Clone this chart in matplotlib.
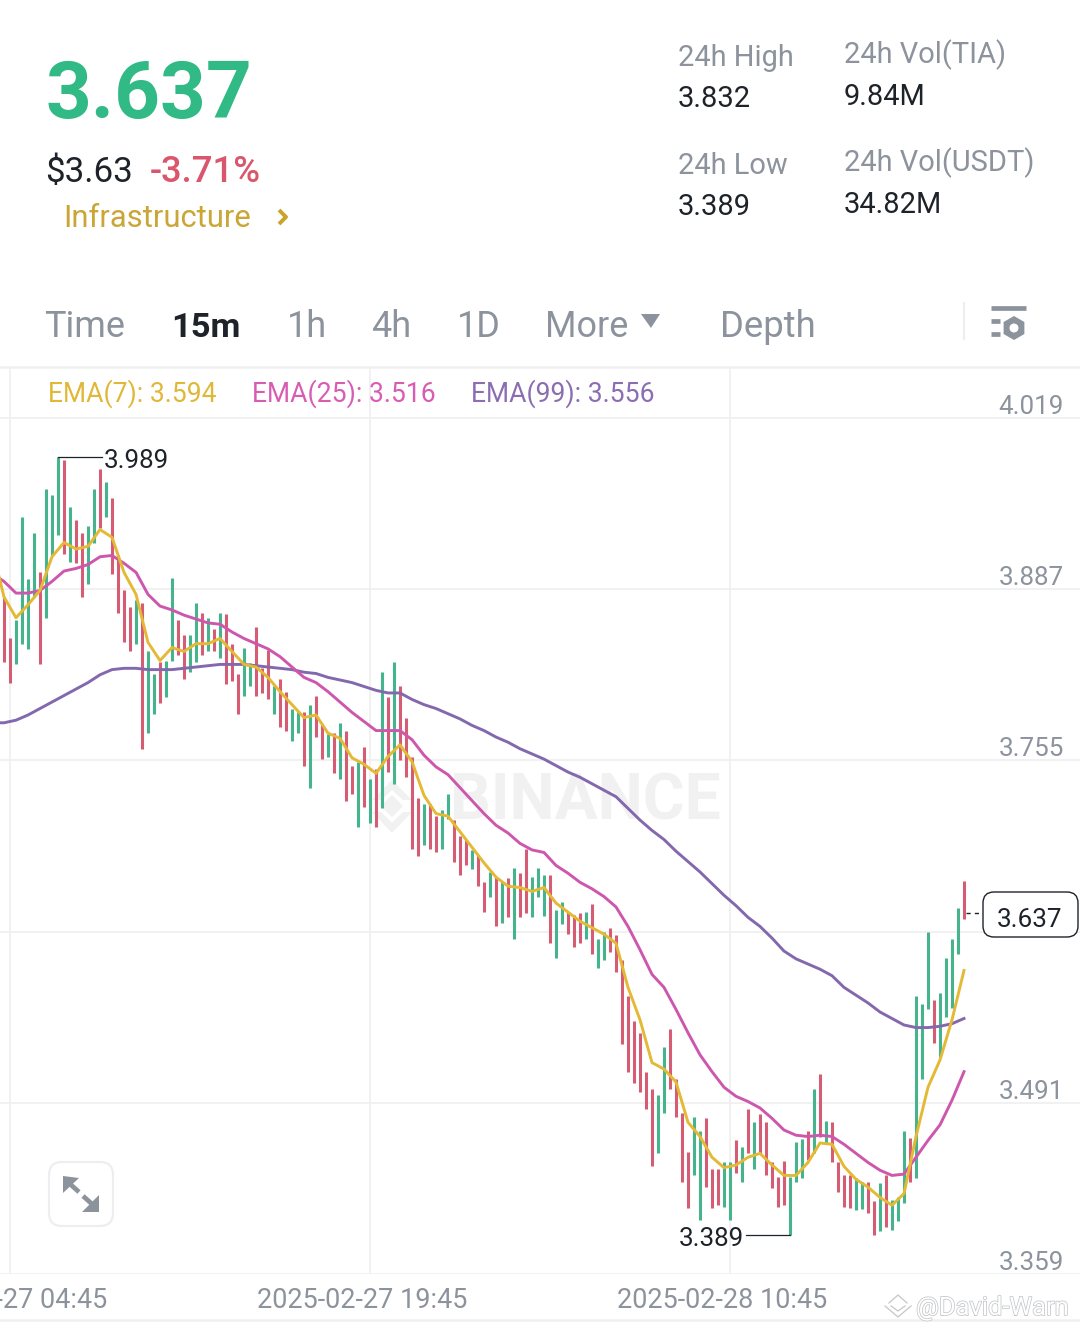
import numpy as np
import matplotlib
matplotlib.use("Agg")
import matplotlib.pyplot as plt
import matplotlib.patheffects as pe
from matplotlib.patches import FancyBboxPatch, Polygon, Circle, RegularPolygon

plt.rcParams['font.family'] = ['Roboto', 'DejaVu Sans']

# candle data, 15m bars
highs = [3.881, 3.849, 3.863, 3.943, 3.895, 3.930, 3.900, 3.964, 3.960, 3.989,
         3.987, 3.950, 3.940, 3.930, 3.936, 3.964, 3.980, 3.970, 3.957, 3.913,
         3.886, 3.873, 3.879, 3.876, 3.839, 3.822, 3.831, 3.832, 3.896, 3.863,
         3.852, 3.852, 3.876, 3.869, 3.865, 3.856, 3.869, 3.868, 3.845, 3.822,
         3.842, 3.830, 3.858, 3.826, 3.840, 3.812, 3.818, 3.808, 3.795, 3.792,
         3.792, 3.798, 3.805, 3.782, 3.775, 3.776, 3.784, 3.778, 3.751, 3.754,
         3.765, 3.741, 3.748, 3.823, 3.804, 3.831, 3.812, 3.788, 3.758, 3.726,
         3.721, 3.721, 3.712, 3.717, 3.729, 3.709, 3.697, 3.694, 3.686, 3.682,
         3.661, 3.669, 3.665, 3.661, 3.664, 3.672, 3.668, 3.687, 3.665, 3.672,
         3.667, 3.667, 3.640, 3.646, 3.638, 3.636, 3.637, 3.638, 3.644, 3.617,
         3.623, 3.626, 3.620, 3.601, 3.573, 3.554, 3.545, 3.515, 3.502, 3.497,
         3.534, 3.548, 3.509, 3.483, 3.453, 3.480, 3.469, 3.479, 3.440, 3.440,
         3.445, 3.445, 3.462, 3.457, 3.486, 3.476, 3.482, 3.476, 3.445, 3.434,
         3.446, 3.434, 3.461, 3.463, 3.469, 3.502, 3.513, 3.477, 3.476, 3.445,
         3.435, 3.435, 3.433, 3.430, 3.430, 3.415, 3.429, 3.435, 3.416, 3.418,
         3.469, 3.464, 3.573, 3.567, 3.623, 3.570, 3.576, 3.603, 3.617, 3.641,
         3.662]
lows = [3.831, 3.815, 3.829, 3.845, 3.841, 3.881, 3.829, 3.865, 3.913, 3.929,
        3.914, 3.908, 3.907, 3.881, 3.891, 3.923, 3.934, 3.943, 3.899, 3.869,
        3.846, 3.839, 3.845, 3.764, 3.776, 3.791, 3.799, 3.804, 3.832, 3.836,
        3.818, 3.823, 3.831, 3.836, 3.839, 3.839, 3.834, 3.814, 3.816, 3.791,
        3.805, 3.812, 3.805, 3.807, 3.802, 3.791, 3.781, 3.778, 3.770, 3.776,
        3.751, 3.734, 3.773, 3.756, 3.758, 3.745, 3.741, 3.724, 3.729, 3.704,
        3.719, 3.707, 3.704, 3.718, 3.746, 3.737, 3.755, 3.742, 3.687, 3.681,
        3.690, 3.687, 3.684, 3.687, 3.710, 3.677, 3.667, 3.674, 3.671, 3.658,
        3.638, 3.650, 3.627, 3.630, 3.634, 3.617, 3.634, 3.637, 3.634, 3.650,
        3.635, 3.614, 3.603, 3.629, 3.621, 3.611, 3.614, 3.617, 3.606, 3.595,
        3.601, 3.607, 3.592, 3.536, 3.515, 3.506, 3.499, 3.486, 3.442, 3.452,
        3.483, 3.502, 3.480, 3.430, 3.410, 3.435, 3.401, 3.426, 3.410, 3.412,
        3.411, 3.401, 3.437, 3.430, 3.452, 3.440, 3.452, 3.435, 3.425, 3.411,
        3.412, 3.389, 3.430, 3.433, 3.447, 3.452, 3.465, 3.460, 3.445, 3.422,
        3.411, 3.410, 3.408, 3.409, 3.406, 3.389, 3.392, 3.395, 3.393, 3.400,
        3.414, 3.430, 3.433, 3.509, 3.563, 3.537, 3.526, 3.557, 3.564, 3.606,
        3.633]
# U = green bar, D = red bar
directions = ("DDUUUUDUUU" "DUDDUUDUDD" "DDUDUUDUUD" "DUUDUDUDDD"
              "UUDDDUDDUU" "DUDDUDUDDU" "DUDUDUDDDD" "UDDUUDDDUD"
              "DUDUDUDDUU" "UDUUDDDUDU" "UDDDDDDDDU" "UDDDDUUDDD"
              "UUDUDUDDDD" "DUUUDUDUDD" "DDUUDDUDUU" "UDUUUDUUUU"
              "D")

# moving averages, one value every second bar, first value sits one bar left of the chart
ema7 = [3.900, 3.881, 3.865, 3.875, 3.886, 3.912, 3.923, 3.918, 3.920, 3.933, 3.927,
        3.900, 3.883, 3.846, 3.832, 3.842, 3.839, 3.845, 3.845, 3.849, 3.839,
        3.829, 3.827, 3.819, 3.808, 3.798, 3.788, 3.790, 3.776, 3.772, 3.757,
        3.752, 3.745, 3.758, 3.767, 3.754, 3.728, 3.714, 3.712, 3.700, 3.688,
        3.676, 3.665, 3.658, 3.657, 3.654, 3.657, 3.645, 3.638, 3.631, 3.626,
        3.621, 3.614, 3.580, 3.555, 3.522, 3.517, 3.507, 3.476, 3.465, 3.449,
        3.441, 3.443, 3.449, 3.452, 3.443, 3.435, 3.435, 3.445, 3.460, 3.459,
        3.442, 3.432, 3.426, 3.418, 3.412, 3.421, 3.465, 3.503, 3.524, 3.555,
        3.593]
ema25 = [3.896, 3.893, 3.884, 3.884, 3.886, 3.893, 3.901, 3.903, 3.906, 3.912, 3.913,
         3.907, 3.900, 3.883, 3.874, 3.871, 3.867, 3.864, 3.861, 3.860, 3.854,
         3.849, 3.845, 3.841, 3.835, 3.827, 3.819, 3.815, 3.808, 3.800, 3.792,
         3.785, 3.778, 3.778, 3.778, 3.771, 3.759, 3.750, 3.744, 3.734, 3.724,
         3.714, 3.705, 3.699, 3.691, 3.686, 3.684, 3.674, 3.668, 3.661, 3.656,
         3.650, 3.642, 3.627, 3.609, 3.590, 3.580, 3.563, 3.545, 3.528, 3.515,
         3.503, 3.496, 3.492, 3.487, 3.479, 3.470, 3.466, 3.465, 3.466, 3.465,
         3.459, 3.452, 3.445, 3.439, 3.435, 3.436, 3.449, 3.462, 3.474, 3.493,
         3.515]
ema99 = [3.784, 3.784, 3.786, 3.790, 3.795, 3.800, 3.805, 3.810, 3.815, 3.821, 3.825,
         3.826, 3.826, 3.825, 3.825, 3.825, 3.826, 3.827, 3.828, 3.829, 3.829,
         3.829, 3.828, 3.827, 3.826, 3.825, 3.823, 3.822, 3.819, 3.817, 3.815,
         3.812, 3.809, 3.807, 3.807, 3.802, 3.798, 3.795, 3.791, 3.787, 3.782,
         3.778, 3.773, 3.769, 3.764, 3.760, 3.756, 3.751, 3.746, 3.742, 3.737,
         3.732, 3.727, 3.718, 3.709, 3.701, 3.694, 3.685, 3.677, 3.669, 3.660,
         3.651, 3.643, 3.634, 3.627, 3.618, 3.608, 3.602, 3.598, 3.594, 3.589,
         3.580, 3.574, 3.568, 3.561, 3.556, 3.551, 3.549, 3.549, 3.550, 3.552,
         3.556]

price_ticks = [4.019, 3.887, 3.755, 3.623, 3.491, 3.359]
# the 3.623 label sits under the current price tag
price_labels = ["4.019", "3.887", "3.755", "", "3.491", "3.359"]
time_ticks = [1, 61, 121]
time_labels = ["2025-02-27 04:45", "2025-02-27 19:45", "2025-02-28 10:45"]

GREEN = "#45B48C"
RED = "#D65C73"
GRAY = "#8C939C"
DARK = "#1E2329"
GRID = "#F0F0F1"
YELLOW = "#E3B935"
MAGENTA = "#CE57AE"
PURPLE = "#8468AE"
MARK = "#F1F1F2"

W, H = 1080, 1328
fig = plt.figure(figsize=(W / 100, H / 100), dpi=100, facecolor="white")


def pixel_axes(zorder):
    # overlay axes that work in screen pixels
    a = fig.add_axes([0, 0, 1, 1], facecolor="none", zorder=zorder)
    a.set_xlim(0, W)
    a.set_ylim(H, 0)
    a.axis("off")
    return a


back = pixel_axes(-1)
top = pixel_axes(2)


def put(x, y, s, px, color=DARK, **kw):
    # x, y in screen pixels, y is the baseline, px is font size in pixels
    kw.setdefault("va", "baseline")
    return top.text(x, y, s, fontsize=px * 0.72, color=color, clip_on=True, **kw)


# chart area
ax = fig.add_axes([0, 1 - 1274 / H, 1, (1274 - 368) / H], zorder=1)
ax.patch.set_visible(False)
ax.set_xlim(-4 / 6, (W - 4) / 6)
ax.set_ylim(3.359, 3.359 + (1274 - 368) * 0.132 / 171.2)
for side in ax.spines.values():
    side.set_visible(False)
ax.set_xticks(time_ticks)
ax.set_yticks(price_ticks)
ax.tick_params(length=0, labelbottom=False, labelleft=False)
ax.grid(True, color=GRID, linewidth=1.3, zorder=0)
ax.set_axisbelow(True)

# faint watermark in the middle of the chart
back.text(585, 820, "BINANCE", fontsize=64 * 0.72, color=MARK, ha="center", va="baseline", fontweight="bold")
back.add_patch(Polygon([(392, 795), (403, 806), (392, 817), (381, 806)], fc=MARK, ec="none"))
back.add_patch(Polygon([(392, 780), (412, 800), (403, 800), (392, 790), (381, 800), (372, 800)], fc=MARK, ec="none"))
back.add_patch(Polygon([(392, 833), (412, 812), (403, 812), (392, 823), (381, 812), (372, 812)], fc=MARK, ec="none"))

idx = np.arange(len(highs))
colors = [GREEN if d == "U" else RED for d in directions]
ax.vlines(idx, lows, highs, colors=colors, linewidth=2.2, capstyle="butt", zorder=3)

ax.plot(np.r_[-1, np.arange(len(ema99) - 1) * 2], ema99, color=PURPLE, lw=2.1, zorder=4)
ax.plot(np.r_[-1, np.arange(len(ema25) - 1) * 2], ema25, color=MAGENTA, lw=2.1, zorder=5)
ax.plot(np.r_[-1, np.arange(len(ema7) - 1) * 2], ema7, color=YELLOW, lw=2.1, zorder=6)

# high / low markers
ax.plot([9, 16.4], [3.989, 3.989], color=DARK, lw=0.9, zorder=7)
ax.annotate("3.989", (16.6, 3.989), xytext=(0, -3), textcoords="offset points",
            fontsize=26 * 0.72, color=DARK, va="center", zorder=7)
ax.plot([123.6, 131], [3.389, 3.389], color=DARK, lw=0.9, zorder=7)
ax.annotate("3.389", (123.4, 3.389), xytext=(0, -3), textcoords="offset points",
            fontsize=26 * 0.72, color=DARK, va="center", ha="right", zorder=7)

# current price
ax.plot([160.3, 163], [3.637, 3.637], color=DARK, lw=1, ls=(0, (3, 3)), zorder=7)

# axis labels
for p, lab in zip(price_ticks, price_labels):
    ax.annotate(lab, (1060 / 6, p), xytext=(0, 4 * 0.72), textcoords="offset points",
                ha="right", va="baseline", fontsize=26 * 0.72, color=GRAY, zorder=2)
for t, lab in zip(time_ticks, time_labels):
    ax.annotate(lab, (t, 3.359), xytext=(-8 * 0.72, -34 * 0.72), textcoords="offset points",
                ha="center", va="baseline", fontsize=27 * 0.72, color=GRAY,
                annotation_clip=False)

top.add_patch(FancyBboxPatch((983, 892), 95, 45, boxstyle="round,pad=0,rounding_size=11",
                             fc="white", ec=DARK, lw=1))
put(1030, 927, "3.637", 26, ha="center")

# header
put(45, 118, "3.637", 80, color="#31BA85", fontweight="bold")
put(45, 182, "$3.63", 35)
put(150, 182, "-3.71%", 36.5, color="#D9566C", fontweight="medium")
put(63, 227, "Infrastructure", 31, color="#C9A635")
top.plot([279, 286, 279], [210, 217, 224], color="#C9A32B", lw=2.8, solid_capstyle="butt")

put(678, 66, "24h High", 29, color=GRAY)
put(678, 107, "3.832", 29)
put(678, 174, "24h Low", 29, color=GRAY)
put(678, 215, "3.389", 29)
put(844, 63, "24h Vol(TIA)", 29, color=GRAY)
put(844, 105, "9.84M", 29)
put(844, 171, "24h Vol(USDT)", 29, color=GRAY)
put(844, 213, "34.82M", 29)

# tabs
put(44, 337, "Time", 36, color=GRAY)
put(171, 337, "15m", 34.5, fontweight="bold")
put(287, 337, "1h", 36, color=GRAY)
put(371, 337, "4h", 36, color=GRAY)
put(457, 337, "1D", 36, color=GRAY)
put(545, 337, "More", 36, color=GRAY)
put(720, 337, "Depth", 36.5, color=GRAY)
top.add_patch(Polygon([(641, 314), (660, 314), (651, 328)], fc=GRAY, ec="none"))
top.plot([964, 964], [303, 339], color="#EEEEEE", lw=1.6)

# settings icon
top.plot([991, 1026], [307.5, 307.5], color=GRAY, lw=3.4, solid_capstyle="butt")
top.plot([991, 1000], [320.5, 320.5], color=GRAY, lw=3.4, solid_capstyle="butt")
top.plot([991, 1000], [333.5, 333.5], color=GRAY, lw=3.4, solid_capstyle="butt")
top.add_patch(RegularPolygon((1014, 328), 6, radius=12, fc=GRAY, ec="none"))
top.add_patch(Circle((1014, 328), 4.5, fc="white", ec="none"))

# expand button
top.add_patch(FancyBboxPatch((49, 1162), 64, 64, boxstyle="round,pad=0,rounding_size=13",
                             fc="white", ec="#EDEEF0", lw=1.6))
top.add_patch(Polygon([(63, 1176), (79, 1178), (63, 1193)], fc=GRAY, ec="none"))
top.add_patch(Polygon([(99, 1212), (82, 1212), (99, 1195)], fc=GRAY, ec="none"))
top.plot([70, 79], [1184, 1192], color=GRAY, lw=3.4, solid_capstyle="butt")
top.plot([83, 92], [1196, 1204], color=GRAY, lw=3.4, solid_capstyle="butt")

# legend
put(48, 402, "EMA(7): 3.594", 26.5, color="#E0B838")
put(252, 402, "EMA(25): 3.516", 26.5, color="#D95CB3")
put(471, 402, "EMA(99): 3.556", 26.5, color="#8B6DB2")

# frame lines
top.plot([0, W], [367, 367], color=GRID, lw=1.8)
top.plot([0, W], [1320, 1320], color=GRID, lw=1.8)

# corner watermark
put(916, 1315, "@David-Warn", 25.5, color="white",
    path_effects=[pe.withStroke(linewidth=1.1, foreground="#C4C6C9")])
top.plot([885, 898, 911], [1306, 1317, 1306], color="#C4C6C9", lw=0.9)
top.plot([889, 898, 907], [1303, 1295, 1303], color="#C4C6C9", lw=0.9)
top.plot([891, 898, 905], [1306, 1311, 1306], color="#C4C6C9", lw=0.9)

fig.savefig("out.png", dpi=100, facecolor="white")
